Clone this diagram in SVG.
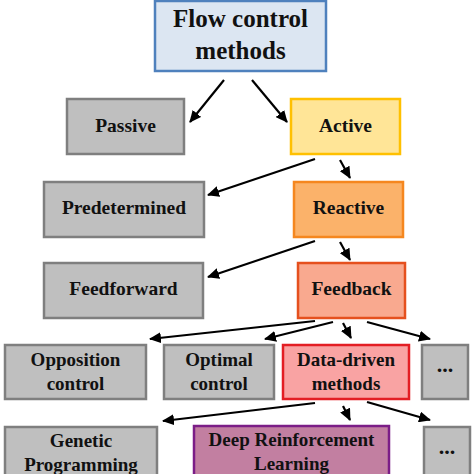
<svg xmlns="http://www.w3.org/2000/svg" width="474" height="474" viewBox="0 0 474 474">
<defs>
<marker id="ah" markerUnits="userSpaceOnUse" markerWidth="13" markerHeight="11" refX="11" refY="5.5" orient="auto">
<path d="M0,0 L12,5.5 L0,11 z" fill="#000"/>
</marker>
<style>
text{font-family:"Liberation Serif","Times New Roman",serif;font-weight:bold;fill:#111;text-anchor:middle;font-size:19.5px}
.t2{font-size:19px}
.top{font-size:25px}
.dots{font-size:22px}
.gray{fill:#bfbfbf;stroke:#7f7f7f;stroke-width:2.5}
.conn line{stroke:#000;stroke-width:2.2;marker-end:url(#ah)}
</style>
</defs>
<rect width="474" height="474" fill="#fff"/>
<g id="root"><rect x="155" y="1" width="171" height="70" fill="#dce6f2" stroke="#4f81bd" stroke-width="2.5"/><text class="top" x="240.5" y="27">Flow control</text><text class="top" x="240.5" y="59">methods</text></g>
<g id="passive"><rect class="gray" x="67" y="99" width="117" height="55"/><text x="125.5" y="132">Passive</text></g>
<g id="active"><rect x="291" y="99" width="109" height="55" fill="#ffe597" stroke="#ffc000" stroke-width="2.5"/><text x="345.5" y="132">Active</text></g>
<g id="predetermined"><rect class="gray" x="44" y="182" width="160" height="55"/><text x="124" y="214">Predetermined</text></g>
<g id="reactive"><rect x="294" y="182" width="109" height="55" fill="#fbb26a" stroke="#f5871f" stroke-width="2.5"/><text x="348.5" y="214">Reactive</text></g>
<g id="feedforward"><rect class="gray" x="44" y="263" width="159" height="55"/><text x="123.5" y="295">Feedforward</text></g>
<g id="feedback"><rect x="298" y="263" width="107" height="55" fill="#f9a98f" stroke="#e5501e" stroke-width="2.5"/><text x="351.5" y="295">Feedback</text></g>
<g id="opposition"><rect class="gray" x="5" y="345" width="141" height="54"/><text class="t2" x="75.5" y="366">Opposition</text><text class="t2" x="75.5" y="390">control</text></g>
<g id="optimal"><rect class="gray" x="164" y="345" width="110" height="54"/><text class="t2" x="219" y="366">Optimal</text><text class="t2" x="219" y="390">control</text></g>
<g id="datadriven"><rect x="283" y="345" width="126" height="54" fill="#f9a3a3" stroke="#e31e24" stroke-width="2.5"/><text class="t2" x="346" y="366">Data-driven</text><text class="t2" x="346" y="390">methods</text></g>
<g id="more1"><rect class="gray" x="422" y="345" width="46" height="54"/><text class="dots" x="445" y="372">...</text></g>
<g id="genetic"><rect class="gray" x="5" y="427" width="152" height="60"/><text class="t2" x="81" y="447">Genetic</text><text class="t2" x="81" y="471">Programming</text></g>
<g id="drl"><rect x="194" y="426" width="195" height="60" fill="#c27fa1" stroke="#7b1d87" stroke-width="2.5"/><text class="t2" x="291.5" y="446">Deep Reinforcement</text><text class="t2" x="291.5" y="470">Learning</text></g>
<g id="more2"><rect class="gray" x="424" y="427" width="46" height="60"/><text class="dots" x="447" y="454">...</text></g>
<g id="connectors" class="conn">
<line x1="224" y1="80" x2="190" y2="122"/>
<line x1="252" y1="80" x2="287" y2="122"/>
<line x1="315" y1="159" x2="208" y2="195"/>
<line x1="340" y1="160" x2="350" y2="178"/>
<line x1="315" y1="241" x2="208" y2="277"/>
<line x1="340" y1="242" x2="350" y2="260"/>
<line x1="315" y1="321" x2="150" y2="339"/>
<line x1="333" y1="322" x2="265" y2="339"/>
<line x1="343" y1="323" x2="351" y2="338"/>
<line x1="367" y1="322" x2="430" y2="339"/>
<line x1="315" y1="403" x2="163" y2="421"/>
<line x1="343" y1="406" x2="350" y2="420"/>
<line x1="367" y1="402" x2="430" y2="420"/>
</g>
</svg>
